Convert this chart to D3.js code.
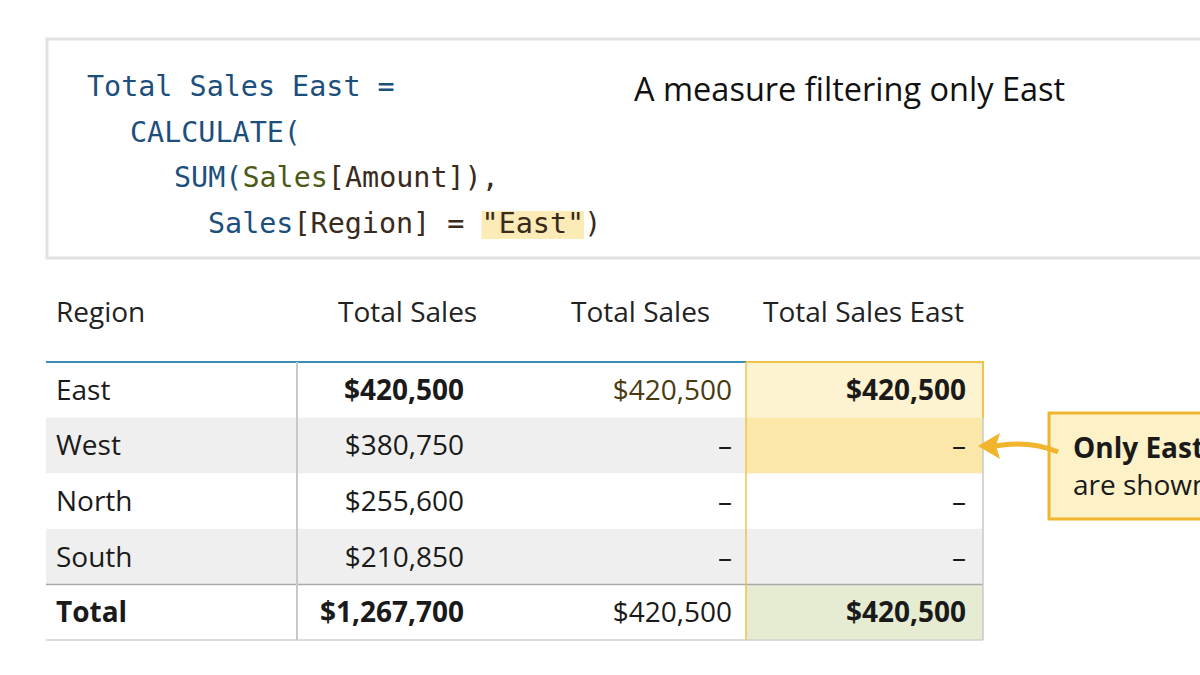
<!DOCTYPE html>
<html><head><meta charset="utf-8">
<script src="https://cdn.jsdelivr.net/npm/d3@7"></script>
<style>body{margin:0;background:#fff}</style>
</head><body>
<svg id="chart" width="1200" height="675"></svg>
<script>
// Data
var regions = ["East", "West", "North", "South"];
var totalSales = [420500, 380750, 255600, 210850];
var totalSalesFiltered = [420500, null, null, null];
var totalSalesEast = [420500, null, null, null];
var headers = ["Region", "Total Sales", "Total Sales", "Total Sales East"];
var totalLabel = "Total";
var title = "A measure filtering only East";
var calloutLines = ["Only East", "are shown"];

var svg = d3.select("#chart");
var sans = "'Open Sans', 'Noto Sans', sans-serif";
var mono = "'DejaVu Sans Mono', monospace";
var fmt = function(v){ return v == null ? "–" : "$" + d3.format(",")(v); };

// Code box
svg.append("rect").attr("x", 47).attr("y", 39).attr("width", 1170).attr("height", 219)
  .attr("fill", "#fff").attr("stroke", "#e2e2e2").attr("stroke-width", 3);

var blue = "#1d4f7c", green = "#4b5a16", brown = "#3a2a1c";
var codeLines = [
  {x: 87, parts: [["Total Sales East =", blue]]},
  {x: 130, parts: [["CALCULATE(", blue]]},
  {x: 174, parts: [["SUM(", blue], ["Sales", green], ["[Amount]), ", brown]]},
  {x: 208, parts: [["Sales", blue], ["[Region] = ", brown], ["\"East\"", brown], [")", brown]]}
];
var lineY = d3.scaleLinear().domain([0, 3]).range([96, 233]);
var codeSize = 28.4, charW = codeSize * 0.602;
codeLines.forEach(function(l, i) {
  var x = l.x;
  l.parts.forEach(function(p) {
    if (p[0] == "\"East\"") {
      svg.append("rect").attr("x", x).attr("y", lineY(i) - 22).attr("width", p[0].length * charW)
        .attr("height", 28).attr("fill", "#fcebb6");
    }
    svg.append("text").attr("x", x).attr("y", lineY(i)).attr("font-family", mono)
      .attr("font-size", codeSize).attr("fill", p[1]).attr("xml:space", "preserve").text(p[0]);
    x += p[0].length * charW;
  });
});
svg.append("text").attr("x", 634).attr("y", 101).attr("font-family", sans)
  .attr("font-size", 32.5).attr("fill", "#111").text(title);

// Table
var fs = 28;
var rowLabels = regions.concat([totalLabel]);
var y = d3.scaleBand().domain(d3.range(5)).range([362, 640]);

rowLabels.forEach(function(r, i) {
  if (i == 1 || i == 3) svg.append("rect").attr("x", 46).attr("y", y(i)).attr("width", 937)
    .attr("height", y.bandwidth()).attr("fill", "#efefef");
});
// col4 highlights
svg.append("rect").attr("x", 746).attr("y", y(0)).attr("width", 237).attr("height", y.bandwidth()).attr("fill", "#fdf3d0");
svg.append("rect").attr("x", 746).attr("y", y(1)).attr("width", 237).attr("height", y.bandwidth()).attr("fill", "#fbe7a7");
svg.append("rect").attr("x", 746).attr("y", y(4)).attr("width", 237).attr("height", y.bandwidth()).attr("fill", "#e5ecd2");

// lines
svg.append("line").attr("x1", 46).attr("x2", 746).attr("y1", 362).attr("y2", 362).attr("stroke", "#3a8fb0").attr("stroke-width", 2);
svg.append("line").attr("x1", 46).attr("x2", 983).attr("y1", y(4)).attr("y2", y(4)).attr("stroke", "#aaa").attr("stroke-width", 1.5);
svg.append("line").attr("x1", 46).attr("x2", 983).attr("y1", 640).attr("y2", 640).attr("stroke", "#d0d0d0").attr("stroke-width", 1.5);
svg.append("line").attr("x1", 297).attr("x2", 297).attr("y1", 362).attr("y2", 640).attr("stroke", "#c8c8c8").attr("stroke-width", 2);
svg.append("line").attr("x1", 746).attr("x2", 746).attr("y1", 362).attr("y2", 640).attr("stroke", "#efc44a").attr("stroke-width", 1.5);
svg.append("line").attr("x1", 983).attr("x2", 983).attr("y1", 418).attr("y2", 640).attr("stroke", "#c8c8c8").attr("stroke-width", 1.5);
svg.append("path").attr("d", "M746,362H983V418").attr("fill", "none").attr("stroke", "#efc44a").attr("stroke-width", 2);

// headers
var hx = [56, 338, 571, 763];
headers.forEach(function(h, i) {
  svg.append("text").attr("x", hx[i]).attr("y", 322).attr("font-family", sans)
    .attr("font-size", fs).attr("fill", "#222").text(h);
});

// cells
rowLabels.forEach(function(r, i) {
  var cy = y(i) + y.bandwidth() / 2 + 10;
  var isTot = i == 4;
  var vals = isTot
    ? [d3.sum(totalSales), d3.sum(totalSalesFiltered), d3.sum(totalSalesEast)]
    : [totalSales[i], totalSalesFiltered[i], totalSalesEast[i]];
  svg.append("text").attr("x", 56).attr("y", cy).attr("font-family", sans).attr("font-size", fs)
    .attr("font-weight", isTot ? 700 : 400).attr("fill", "#1a1a1a").text(r);
  var rx = [464, 732, 966];
  vals.forEach(function(v, j) {
    var bold = (j == 0 && (i == 0 || isTot)) || (j == 2 && v != null);
    svg.append("text").attr("x", rx[j]).attr("y", cy).attr("text-anchor", "end")
      .attr("font-family", sans).attr("font-size", fs).attr("font-weight", bold ? 700 : 400)
      .attr("fill", (j == 1 && i == 0) ? "#4a3a10" : "#1a1a1a").text(fmt(v));
  });
});

// callout
svg.append("rect").attr("x", 1049).attr("y", 413).attr("width", 170).attr("height", 106)
  .attr("fill", "#fdf1c7").attr("stroke", "#f0b52c").attr("stroke-width", 3);
svg.append("path").attr("d", "M1058,452 Q1030,440 995,446").attr("fill", "none")
  .attr("stroke", "#f0b52c").attr("stroke-width", 5);
svg.append("path").attr("d", "M978,446 L1000,433 L996,446 L1000,459 Z").attr("fill", "#f0b52c");
calloutLines.forEach(function(t, i) {
  svg.append("text").attr("x", 1073).attr("y", 458 + i * 37).attr("font-family", sans)
    .attr("font-size", fs).attr("font-weight", i == 0 ? 700 : 400).attr("fill", "#1a1a1a").text(t);
});
</script>
</body></html>
